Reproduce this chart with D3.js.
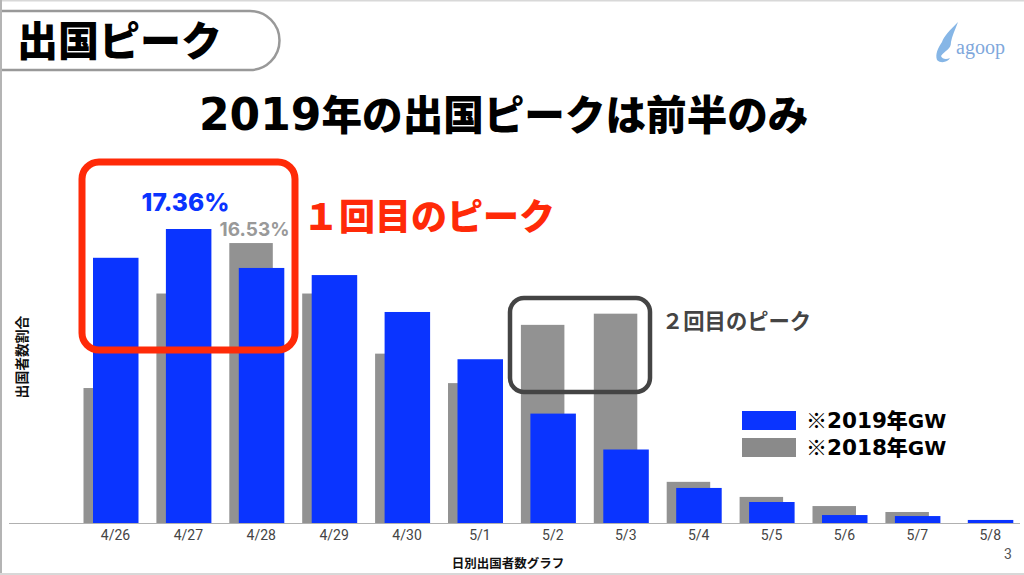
<!DOCTYPE html>
<html>
<head>
<meta charset="utf-8">
<script src="https://cdn.jsdelivr.net/npm/d3@7"></script>
<style>
  html, body { margin: 0; padding: 0; background: #fff; }
  svg { display: block; font-family: "Noto Sans CJK JP", "Noto Sans", sans-serif; }
</style>
</head>
<body>
<svg id="chart"></svg>
<script>
const WIDTH = 1024;
const HEIGHT = 575;
const BASELINE = 523;

const BLUE = "#0a34ff";
const GRAY = "#929292";
const RED = "#ff2a08";
const WIDE_LATIN = "DejaVu Sans";

const days = ["4/26", "4/27", "4/28", "4/29", "4/30", "5/1", "5/2", "5/3", "5/4", "5/5", "5/6", "5/7", "5/8"];
const share2019 = [15.66, 17.36, 15.06, 14.64, 12.46, 9.67, 6.46, 4.34, 2.07, 1.24, 0.47, 0.41, 0.18];
const share2018 = [7.97, 13.55, 16.53, 13.55, 10.0, 8.26, 11.7, 12.36, 2.43, 1.54, 1.0, 0.65, 0];
const legendYears = ["2019", "2018"];

const $svg = d3.select("#chart").attr("width", WIDTH).attr("height", HEIGHT);

const xScale = d3.scaleBand().domain(days).range([79, 1026.7]);
const yScale = d3.scaleLinear().domain([0, 17.36]).range([BASELINE, 229]);

function drawSlideFrame() {
  $svg.append("rect").attr("width", WIDTH).attr("height", HEIGHT).attr("fill", "#fff");
  $svg.append("rect").attr("x", 0).attr("y", 0).attr("width", WIDTH).attr("height", 1.5).attr("fill", "#d8d8d8");
  $svg.append("rect").attr("x", 0).attr("y", 0).attr("width", 2).attr("height", HEIGHT).attr("fill", "#b4b4b4");
  $svg.append("rect").attr("x", 0).attr("y", 573).attr("width", WIDTH).attr("height", 2).attr("fill", "#d8d8d8");

  // header tab, open on the left edge
  $svg.append("path")
    .attr("d", "M2,11 H250 A29.5,29.5 0 0 1 250,70 H2")
    .attr("fill", "#fff")
    .attr("stroke", "#999")
    .attr("stroke-width", 2.5);

  $svg.append("text")
    .attr("x", 17).attr("y", 56)
    .attr("font-size", 41).attr("font-weight", 900)
    .attr("fill", "#000")
    .text("出国ピーク");

  const $title = $svg.append("text")
    .attr("x", 199).attr("y", 130)
    .attr("font-size", 40.6).attr("font-weight", 900)
    .attr("fill", "#000");
  $title.append("tspan")
    .attr("font-family", WIDE_LATIN)
    .attr("font-weight", 700)
    .attr("font-size", 44)
    .text("2019");
  $title.append("tspan").text("年の出国ピークは前半のみ");
}

function drawLogo() {
  const $logo = $svg.append("g");
  $logo.append("path")
    .attr("d", "M958,22 C950,30 944,36 942,42 C938,48 935,54 937,60 C941,64 948,62 950,58 C946,60 942,59 941,56 C945,50 951,50 951,42 C952,36 955,30 958,22 Z")
    .attr("fill", "#86b6e6");
  $logo.append("text")
    .attr("x", 956).attr("y", 54)
    .attr("font-family", "Liberation Serif")
    .attr("font-size", 20)
    .attr("fill", "#7fa8dc")
    .text("agoop");
}

function drawBars() {
  const grayBars = days.map((d, i) => ({ day: d, value: share2018[i] })).filter(d => d.value > 0);
  const blueBars = days.map((d, i) => ({ day: d, value: share2019[i] }));

  $svg.append("g").selectAll("rect")
    .data(grayBars)
    .enter()
    .append("rect")
    .attr("x", d => xScale(d.day) + 4.5)
    .attr("y", d => yScale(d.value))
    .attr("width", 43.5)
    .attr("height", d => BASELINE - yScale(d.value))
    .attr("fill", GRAY);

  $svg.append("g").selectAll("rect")
    .data(blueBars)
    .enter()
    .append("rect")
    .attr("x", d => xScale(d.day) + 14)
    .attr("y", d => yScale(d.value))
    .attr("width", 45.5)
    .attr("height", d => BASELINE - yScale(d.value))
    .attr("fill", BLUE);
}

function drawAxis() {
  const axis = d3.axisBottom(xScale).tickSize(0).tickPadding(7);
  const $axis = $svg.append("g")
    .attr("transform", `translate(0,${BASELINE})`)
    .call(axis);
  $axis.select(".domain").remove();
  $axis.selectAll("text")
    .attr("font-family", "Roboto")
    .attr("font-size", 14)
    .attr("fill", "#444");

  $svg.append("line")
    .attr("x1", 9).attr("x2", 1020)
    .attr("y1", BASELINE + 0.5).attr("y2", BASELINE + 0.5)
    .attr("stroke", "#b0b0b0")
    .attr("stroke-width", 1.2);

  $svg.append("text")
    .attr("x", 508).attr("y", 568)
    .attr("text-anchor", "middle")
    .attr("font-size", 12.5).attr("font-weight", 700)
    .attr("fill", "#111")
    .text("日別出国者数グラフ");

  $svg.append("text")
    .attr("transform", "translate(27,357) rotate(-90)")
    .attr("text-anchor", "middle")
    .attr("font-size", 13.8).attr("font-weight", 700)
    .attr("fill", "#111")
    .text("出国者数割合");

  $svg.append("text")
    .attr("x", 1008).attr("y", 559)
    .attr("text-anchor", "middle")
    .attr("font-family", "Roboto")
    .attr("font-size", 14)
    .attr("fill", "#555")
    .text("3");
}

function drawCallouts() {
  $svg.append("rect")
    .attr("x", 82).attr("y", 162)
    .attr("width", 213).attr("height", 188)
    .attr("rx", 17)
    .attr("fill", "none")
    .attr("stroke", RED)
    .attr("stroke-width", 7);

  $svg.append("rect")
    .attr("x", 510).attr("y", 298)
    .attr("width", 140).attr("height", 94)
    .attr("rx", 14)
    .attr("fill", "none")
    .attr("stroke", "#444")
    .attr("stroke-width", 4.5);

  $svg.append("text")
    .attr("x", 185.5).attr("y", 211)
    .attr("text-anchor", "middle")
    .attr("font-family", "Inter")
    .attr("font-size", 24.5).attr("font-weight", 800)
    .attr("fill", BLUE)
    .text(d3.format(".2f")(share2019[1]) + "%");

  $svg.append("text")
    .attr("x", 254.5).attr("y", 235.5)
    .attr("text-anchor", "middle")
    .attr("font-family", "Inter")
    .attr("font-size", 19).attr("font-weight", 700)
    .attr("fill", "#999")
    .text(d3.format(".2f")(share2018[2]) + "%");

  $svg.append("text")
    .attr("x", 303).attr("y", 230)
    .attr("font-size", 36).attr("font-weight", 900)
    .attr("fill", RED)
    .text("１回目のピーク");

  $svg.append("text")
    .attr("x", 662).attr("y", 329)
    .attr("font-size", 21.3).attr("font-weight", 700)
    .attr("fill", "#444")
    .text("２回目のピーク");
}

function drawLegend() {
  const colors = [BLUE, "#8a8a8a"];
  const $items = $svg.append("g").selectAll("g")
    .data(legendYears)
    .enter()
    .append("g")
    .attr("transform", (d, i) => `translate(742,${411 + i * 27})`);

  $items.append("rect")
    .attr("width", 54).attr("height", 19)
    .attr("fill", (d, i) => colors[i]);

  const $labels = $items.append("text")
    .attr("x", 64).attr("y", 17)
    .attr("font-size", 21).attr("font-weight", 900)
    .attr("fill", "#000");
  $labels.append("tspan").text("※");
  $labels.append("tspan")
    .attr("font-family", WIDE_LATIN)
    .attr("font-weight", 700)
    .attr("font-size", 21.5)
    .text(d => d);
  $labels.append("tspan").text("年");
  $labels.append("tspan")
    .attr("font-family", WIDE_LATIN)
    .attr("font-weight", 700)
    .attr("font-size", 20)
    .text("GW");
}

drawSlideFrame();
drawLogo();
drawBars();
drawAxis();
drawCallouts();
drawLegend();
</script>
</body>
</html>
